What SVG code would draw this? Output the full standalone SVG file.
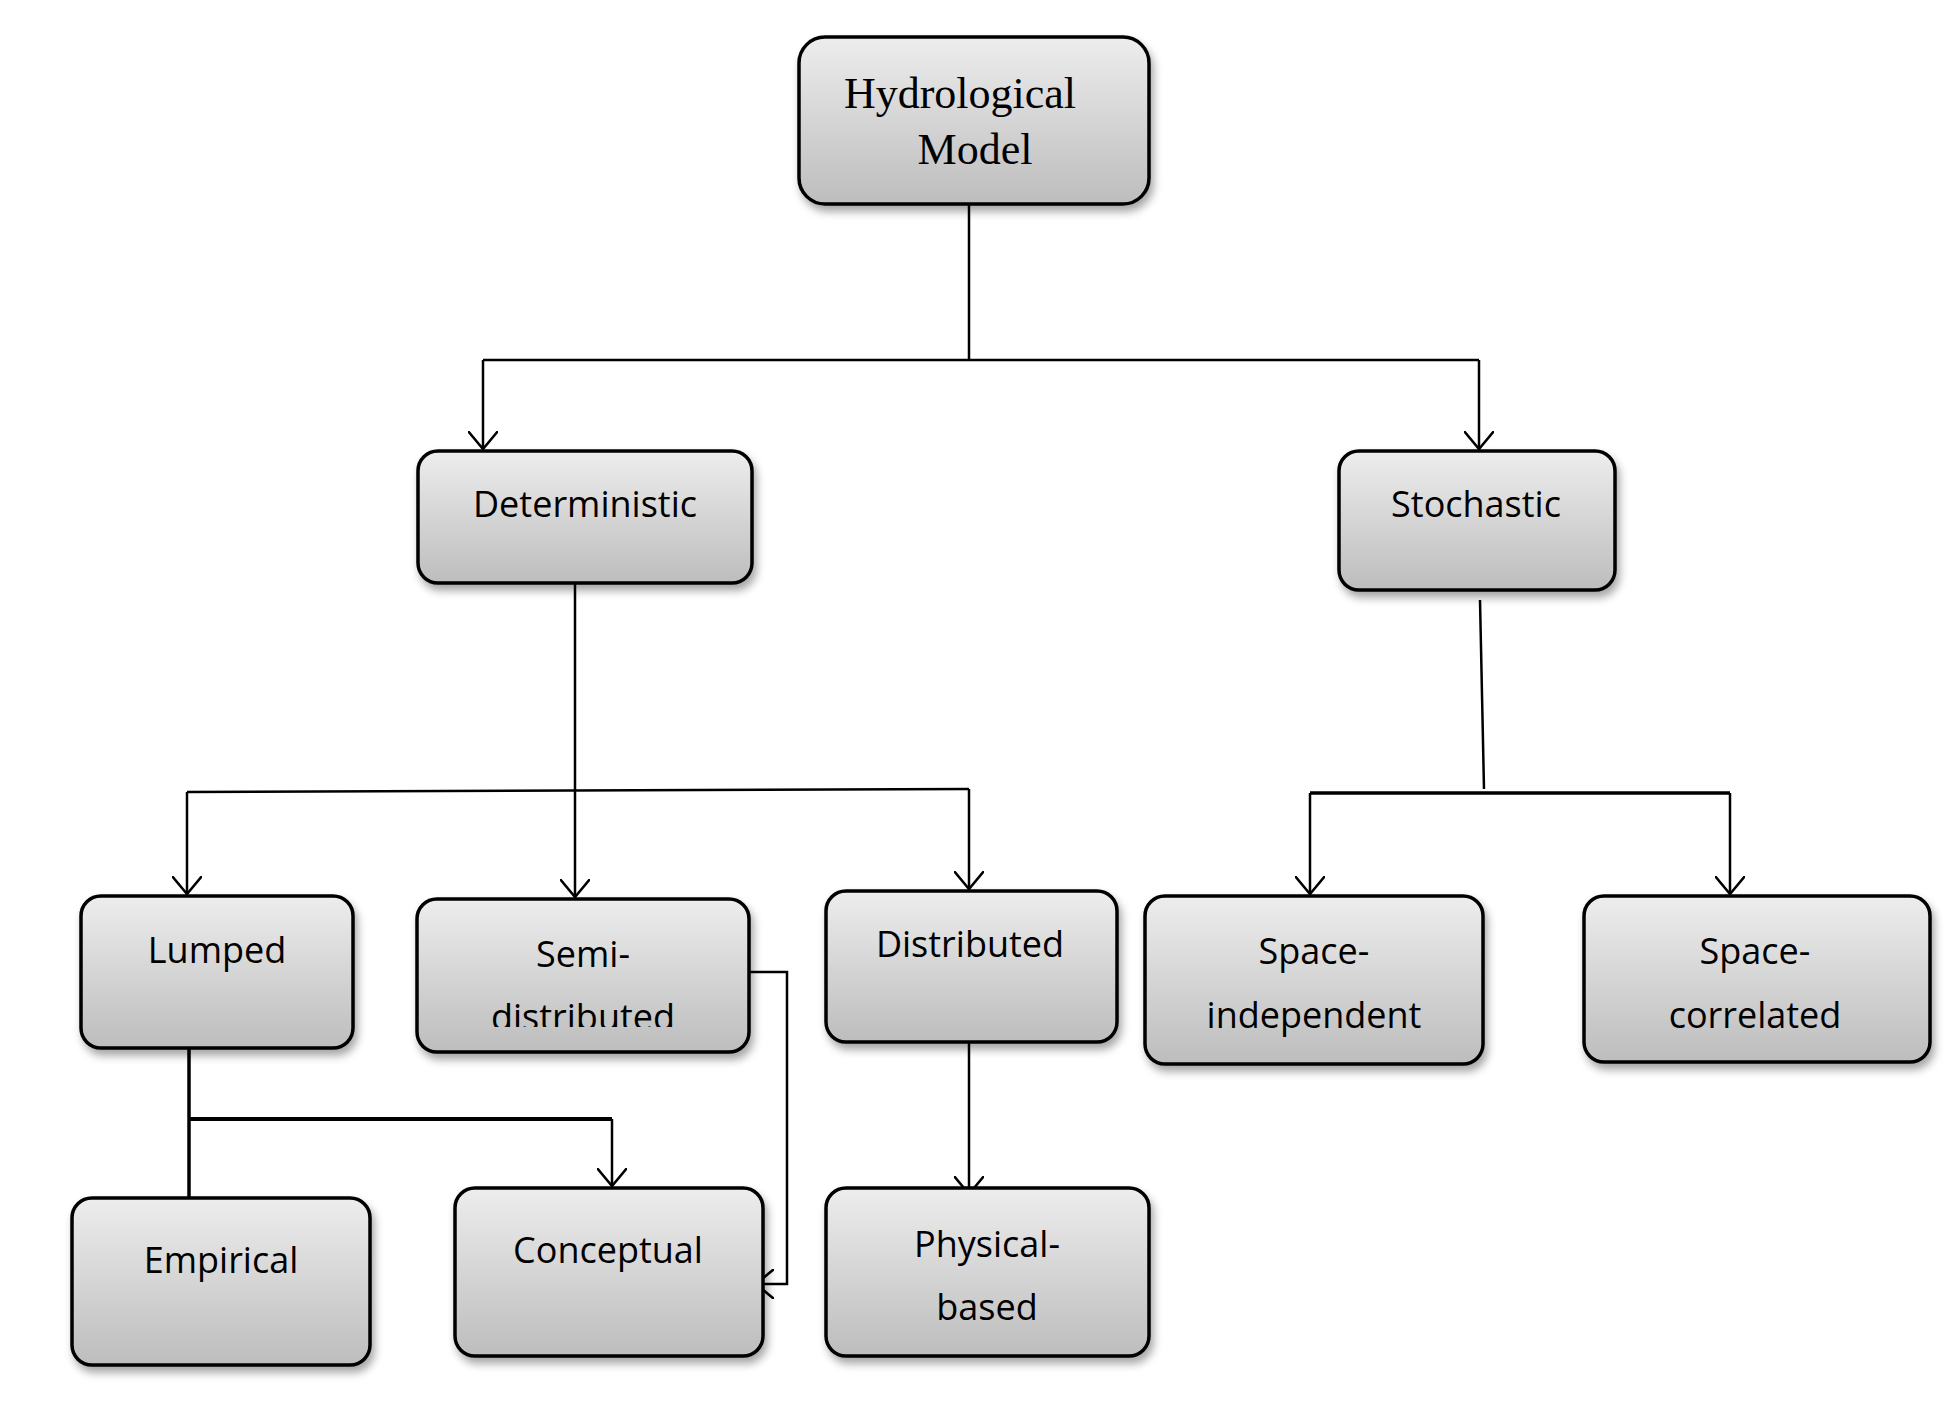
<svg xmlns="http://www.w3.org/2000/svg" width="1951" height="1408" viewBox="0 0 1951 1408">
<style>
.b{fill:url(#g);stroke:#000;stroke-width:3.5;filter:url(#s)}
.t{font-family:"Open Sans","DejaVu Sans",sans-serif;font-size:36px;text-anchor:middle;fill:#000}
.h{font-family:"Liberation Serif",serif;font-size:44px;text-anchor:middle;fill:#000}
.c{fill:none;stroke:#000;stroke-width:2.5}
</style>
<defs>
<linearGradient id="g" x1="0" y1="0" x2="0" y2="1"><stop offset="0" stop-color="#ededed"/><stop offset="1" stop-color="#bdbdbd"/></linearGradient>
<filter id="s" x="-10%" y="-10%" width="130%" height="140%"><feDropShadow dx="3" dy="6" stdDeviation="4" flood-color="#000" flood-opacity="0.35"/></filter>
<marker id="a" markerWidth="20" markerHeight="30" refX="18" refY="15" orient="auto" markerUnits="userSpaceOnUse"><path d="M0,0 L18,15 L0,30" fill="none" stroke="#000" stroke-width="2.5"/></marker>
<clipPath id="cl"><rect x="417" y="899" width="332" height="128"/></clipPath>
</defs>
<rect width="1951" height="1408" fill="#fff"/>
<g id="connectors">
<path class="c" d="M969,204 V360 M483,360 H1479"/>
<path class="c" d="M483,360 V449" marker-end="url(#a)"/>
<path class="c" d="M1479,360 V449" marker-end="url(#a)"/>
<path class="c" d="M575,583 V897" marker-end="url(#a)"/>
<path class="c" d="M187,792 L969,789"/>
<path class="c" d="M187,792 V894" marker-end="url(#a)"/>
<path class="c" d="M969,789 V889" marker-end="url(#a)"/>
<path class="c" d="M1480,600 L1484,789"/>
<path class="c" d="M1310,793 H1730" style="stroke-width:3.5"/>
<path class="c" d="M1310,793 V894" marker-end="url(#a)"/>
<path class="c" d="M1730,793 V894" marker-end="url(#a)"/>
<path class="c" d="M189,1048 V1198" style="stroke-width:3.5"/>
<path class="c" d="M189,1119 H612" style="stroke-width:4"/>
<path class="c" d="M612,1119 V1186" marker-end="url(#a)"/>
<path class="c" d="M738,972 H787 V1284 H756" marker-end="url(#a)"/>
<path class="c" d="M969,1042 V1194" marker-end="url(#a)"/>
</g>
<g id="hm"><rect class="b" x="799" y="37" width="350" height="167" rx="26"/><text class="h" x="960" y="108">Hydrological</text><text class="h" x="975" y="164">Model</text></g>
<g id="det"><rect class="b" x="418" y="451" width="334" height="132" rx="20"/><text class="t" x="585" y="517">Deterministic</text></g>
<g id="sto"><rect class="b" x="1339" y="451" width="276" height="139" rx="20"/><text class="t" x="1476" y="517">Stochastic</text></g>
<g id="lum"><rect class="b" x="81" y="896" width="272" height="152" rx="20"/><text class="t" x="217" y="963">Lumped</text></g>
<g id="semi"><rect class="b" x="417" y="899" width="332" height="153" rx="20"/><text class="t" x="583" y="967">Semi-</text><text class="t" x="583" y="1030" clip-path="url(#cl)">distributed</text></g>
<g id="dis"><rect class="b" x="826" y="891" width="291" height="151" rx="20"/><text class="t" x="970" y="957">Distributed</text></g>
<g id="si"><rect class="b" x="1145" y="896" width="338" height="168" rx="20"/><text class="t" x="1314" y="964">Space-</text><text class="t" x="1314" y="1028">independent</text></g>
<g id="sc"><rect class="b" x="1584" y="896" width="346" height="166" rx="20"/><text class="t" x="1755" y="964">Space-</text><text class="t" x="1755" y="1028">correlated</text></g>
<g id="emp"><rect class="b" x="72" y="1198" width="298" height="167" rx="20"/><text class="t" x="221" y="1273">Empirical</text></g>
<g id="con"><rect class="b" x="455" y="1188" width="308" height="168" rx="20"/><text class="t" x="608" y="1263">Conceptual</text></g>
<g id="phy"><rect class="b" x="826" y="1188" width="323" height="168" rx="20"/><text class="t" x="987" y="1257">Physical-</text><text class="t" x="987" y="1320">based</text></g>
</svg>
